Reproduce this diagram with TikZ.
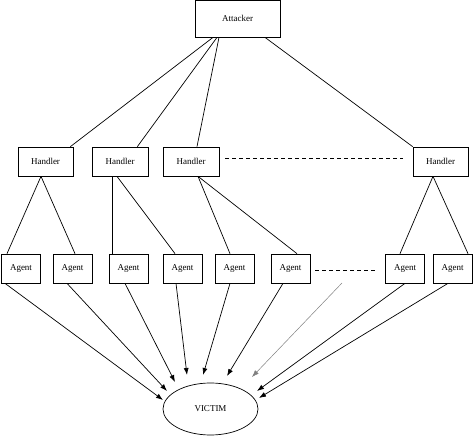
\documentclass[tikz,border=0pt]{standalone}
\usepackage{fontspec}
\setmainfont{Liberation Serif}
\usetikzlibrary{arrows.meta, shapes.geometric}
\tikzset{
  box/.style = {draw, inner sep = 0, minimum height = 29, font = \fontsize{9}{10}\selectfont},
  handler/.style = {box, minimum width = 55},
  agent/.style = {box, minimum width = 39},
  arr/.style = {-{Latex[length = 7pt, width = 5pt]}},
  dots/.style = {dash pattern = on 4pt off 3pt}
}
\begin{document}
\begin{tikzpicture}[x = 1pt, y = -1pt, line width = 0.7pt]
\useasboundingbox (0,0) rectangle (474,438);
\node [box, minimum width = 85, minimum height = 36.5] (att) at (237.5,18.8) {Attacker};
\node [handler] (h1) at (45.5,161.5) {Handler};
\node [handler, minimum width = 56] (h2) at (120,161.5) {Handler};
\node [handler, minimum width = 56] (h3) at (191,161.5) {Handler};
\node [handler] (h4) at (440.5,161.5) {Handler};
\foreach \n/\x in {1/21,2/72.5,3/128.5,4/182.5,5/234.5,6/290.5,7/405,8/452.5}
  \node [agent] (a\n) at (\x,268.5) {Agent};
\node [draw, ellipse, minimum width = 95, minimum height = 52, inner sep = 0, font = \fontsize{9}{10}\selectfont] (victim) at (210.5,409) {VICTIM};
\coordinate (gfree) at (342,283);
\draw ([xshift = -24.5]att.south) -- ([xshift = -3]h1.north east);
\draw ([xshift = -20.5]att.south) -- ([xshift = -11]h2.north east);
\draw ([xshift = -18.5]att.south) -- ([xshift = 6]h3.north);
\draw ([xshift = 27.5]att.south) -- (h4.north west);
\draw [dots] ([yshift = 3.5, xshift = 6]h3.east) -- ([yshift = 3.5, xshift = -10]h4.west);
\draw [dots] ([yshift = -1.5, xshift = 5]a6.east) -- ([yshift = -1.5, xshift = -7]a7.west);
\foreach \h/\s/\a/\t in {h1/-4.5/a1/-14, h1/-4.5/a2/2.5, h2/-8/a3/-16.5, h2/-3/a4/-7.5,
                         h3/7/a5/-4.5, h3/7/a6/6.5, h4/-7.5/a7/-5, h4/-7.5/a8/15.5}
  \draw ([xshift = \s]\h.south) -- ([xshift = \t]\a.north);
\foreach \a/\s/\dx/\dy in {a1/-16/-47.5/-9, a2/-5.5/-43.5/-18, a3/-3.5/-35.5/-27, a4/-6.5/-23.5/-34,
                           a5/-4.5/-7.5/-34, a6/-7.5/16.5/-33, a7/0/46.5/-18, a8/-4.5/48.5/-11}
  \draw [arr] ([xshift = \s]\a.south) -- ([shift = {(\dx,\dy)}]victim.center);
\draw [arr, gray, line width = 0.5pt] (gfree) -- ([shift = {(41.5,-32)}]victim.center);
\end{tikzpicture}
\end{document}
